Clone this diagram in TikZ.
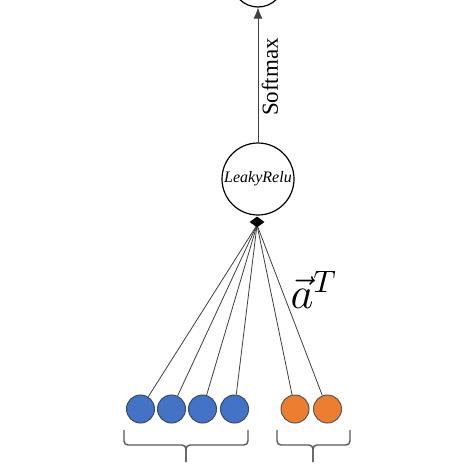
\documentclass[tikz,border=0pt]{standalone}
\usepackage{graphicx}
\usepackage{fontspec}
\setmainfont{Liberation Serif}
\usetikzlibrary{shapes.geometric,arrows.meta}
\definecolor{dotblue}{HTML}{4472C4}
\definecolor{dotorange}{HTML}{ED7D31}
\definecolor{dotedge}{HTML}{3A4A6A}
\begin{document}
\begin{tikzpicture}[x=1pt,y=-1pt,
  bigcirc/.style={circle,draw=black,line width=1.2pt,fill=white,inner sep=0pt},
  bluedot/.style={circle,draw=dotedge,line width=1pt,fill=dotblue,minimum size=28pt,inner sep=0pt},
  orangedot/.style={circle,draw=black!65,line width=1pt,fill=dotorange,minimum size=28pt,inner sep=0pt},
  fan/.style={draw=black!75,line width=0.8pt},
  bracepath/.style={draw=black!65,line width=1.4pt,rounded corners=4pt}]
\clip (0,0) rectangle (474,474);
\useasboundingbox (0,0) rectangle (474,474);
\fill[white] (0,0) rectangle (474,474);
% output circle (cut at top)
\node[bigcirc,minimum size=52pt] (out) at (258,-19) {};
% LeakyRelu
\node[bigcirc,minimum size=72pt] (lr) at (258,179) {\fontsize{16}{18}\selectfont\itshape LeakyRelu};
\draw[draw=black!75,line width=0.8pt,-{Latex[length=11pt,width=9pt]}] (lr.north) -- (out.south);
\node[rotate=90,font=\fontsize{23}{26}\selectfont] (sm) at (270,77) {Softmax};
% inputs
\node[bluedot] (b1) at (140.5,409) {};
\node[bluedot] (b2) at (171.5,409) {};
\node[bluedot] (b3) at (202.5,409) {};
\node[bluedot] (b4) at (234.5,409) {};
\node[orangedot] (o1) at (295,409) {};
\node[orangedot] (o2) at (327.5,409) {};
\coordinate (apex) at (257,225);
\foreach \n in {b1,b2,b3,b4,o1,o2} { \draw[fan] (apex) -- (\n); }
\node[diamond,fill=black,inner sep=0pt,minimum width=15pt,minimum height=11pt] (tip) at (257,222) {};
% label
\node (aT) at (314,290) {\scalebox{3.1}{\fontsize{14}{16}\selectfont$\vec{a}^{T}$}};
% braces
\coordinate (lb1) at (124,430); \coordinate (lb2) at (248,430); \coordinate (lbt) at (186,462);
\draw[bracepath] (lb1) -- (124,445) -- (186,445) -- (lbt);
\draw[bracepath] (lb2) -- (248,445) -- (186,445) -- (lbt);
\coordinate (rb1) at (277,430); \coordinate (rb2) at (350,430); \coordinate (rbt) at (313,462);
\draw[bracepath] (rb1) -- (277,445) -- (313,445) -- (rbt);
\draw[bracepath] (rb2) -- (350,445) -- (313,445) -- (rbt);
\end{tikzpicture}
\end{document}
